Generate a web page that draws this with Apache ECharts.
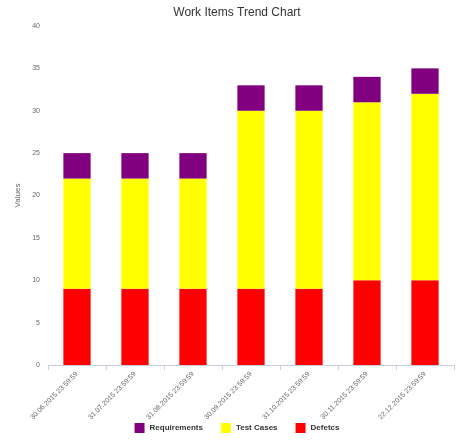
<!DOCTYPE html><html><head><meta charset="utf-8"><script src="https://cdn.jsdelivr.net/npm/echarts@6/dist/echarts.min.js"></script></head><body style="margin:0"><div id="c" style="width:474px;height:442px"></div><script>
const categories=["30.06.2015 23:59:59","31.07.2015 23:59:59","31.08.2015 23:59:59","30.09.2015 23:59:59","31.10.2015 23:59:59","30.11.2015 23:59:59","22.12.2015 23:59:59"];
const defects=[9,9,9,9,9,10,10];
const testCases=[13,13,13,21,21,21,22];
const requirements=[3,3,3,3,3,3,3];
const ch=echarts.init(document.getElementById('c'));
const s=(n,d,c)=>({name:n,type:'bar',stack:'a',data:d,barWidth:'47%',itemStyle:{color:c}});
ch.setOption({animation:false,
title:{text:'Work Items Trend Chart',left:'center',top:2,textStyle:{fontSize:12,fontWeight:'normal',color:'#333',fontFamily:'Arial'}},
legend:{bottom:4,itemWidth:10,itemHeight:10,icon:'rect',itemGap:18,textStyle:{fontSize:8,fontWeight:'bold',color:'#333'},data:['Requirements','Test Cases','Defetcs']},
grid:{left:48,right:20,top:26,bottom:77},
xAxis:{type:'category',data:categories,axisTick:{show:true,alignWithLabel:false,lineStyle:{color:'#ccd'}},axisLine:{lineStyle:{color:'#ccd'}},axisLabel:{rotate:45,fontSize:7,color:'#666',interval:0}},
yAxis:{type:'value',min:0,max:40,interval:5,name:'Values',nameLocation:'middle',nameGap:24,nameTextStyle:{fontSize:8,color:'#666'},splitLine:{show:false},axisLabel:{fontSize:7,color:'#666'}},
series:[s('Defetcs',defects,'#ff0000'),s('Test Cases',testCases,'#ffff00'),s('Requirements',requirements,'#800080')]});
</script></body></html>
